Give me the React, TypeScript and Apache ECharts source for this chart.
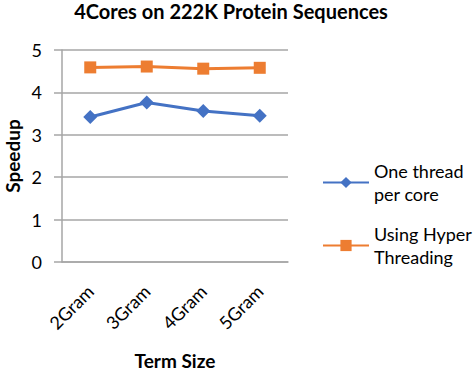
import React, { useEffect, useRef } from "react";
import * as echarts from "echarts";

const categories = ["2Gram", "3Gram", "4Gram", "5Gram"];
const oneThread = [3.42, 3.76, 3.56, 3.45];
const hyperThreading = [4.59, 4.61, 4.56, 4.58];
const seriesNames = ["One thread\nper core", "Using Hyper\nThreading"];

const FONT = "Lato";

export default function App() {
  const ref = useRef<HTMLDivElement>(null);
  useEffect(() => {
    if (!ref.current) return;
    const chart = echarts.init(ref.current, undefined, { renderer: "svg" });
    chart.setOption({
      animation: false,
      backgroundColor: "#ffffff",
      textStyle: { fontFamily: FONT },
      title: {
        text: "4Cores on 222K Protein Sequences",
        left: 231,
        textAlign: "center",
        top: 1,
        padding: 0,
        textStyle: { fontFamily: FONT, fontWeight: "bold", fontSize: 20, color: "#000" },
      },
      grid: {
        left: 62,
        right: 186,
        top: 50,
        bottom: 110,
        containLabel: false,
        outerBoundsMode: "none",
      },
      legend: {
        orient: "vertical",
        left: 322,
        top: 148,
        padding: 0,
        itemWidth: 46,
        itemHeight: 14,
        itemGap: -6,
        data: seriesNames,
        textStyle: {
          fontFamily: FONT,
          fontSize: 18,
          color: "#000",
          lineHeight: 23,
          padding: [23, 0, 0, 0],
        },
      },
      xAxis: {
        type: "category",
        data: categories,
        boundaryGap: true,
        axisLine: { show: true, lineStyle: { color: "#A6A6A6", width: 1.5 } },
        axisTick: { show: false },
        axisLabel: { rotate: 45, margin: 26, fontFamily: FONT, fontSize: 18, color: "#000" },
        name: "Term Size",
        nameLocation: "middle",
        nameGap: 88,
        nameTextStyle: { fontFamily: FONT, fontWeight: "bold", fontSize: 19, color: "#000", lineHeight: 20 },
      },
      yAxis: {
        type: "value",
        min: 0,
        max: 5,
        interval: 1,
        axisLine: { show: true, lineStyle: { color: "#A6A6A6", width: 1.5 } },
        axisTick: { show: true, length: 8, lineStyle: { color: "#A6A6A6", width: 1.5 } },
        splitLine: { show: true, lineStyle: { color: "#A6A6A6", width: 1.5 } },
        axisLabel: { margin: 20, fontFamily: FONT, fontSize: 18, color: "#000" },
        name: "Speedup",
        nameLocation: "middle",
        nameGap: 40,
        nameTextStyle: { fontFamily: FONT, fontWeight: "bold", fontSize: 19, color: "#000", lineHeight: 20 },
      },
      series: [
        {
          name: seriesNames[0],
          type: "line",
          data: oneThread,
          symbol: "diamond",
          symbolSize: 14,
          lineStyle: { color: "#4472C4", width: 3 },
          itemStyle: { color: "#4472C4" },
        },
        {
          name: seriesNames[1],
          type: "line",
          data: hyperThreading,
          symbol: "rect",
          symbolSize: 12,
          lineStyle: { color: "#ED7D31", width: 3 },
          itemStyle: { color: "#ED7D31" },
        },
      ],
    });
    return () => chart.dispose();
  }, []);
  return <div ref={ref} style={{ width: 474, height: 372, position: "absolute", left: 0, top: 0 }} />;
}
